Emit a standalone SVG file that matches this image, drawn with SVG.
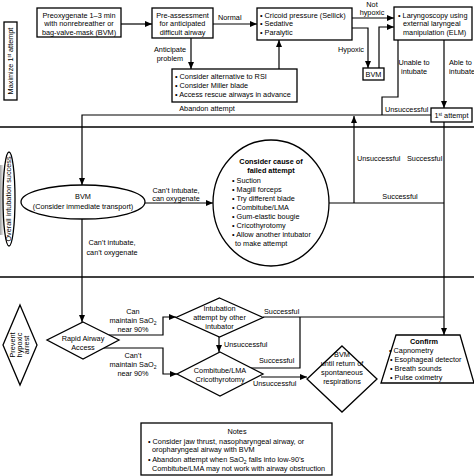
<svg xmlns="http://www.w3.org/2000/svg" width="474" height="476" viewBox="0 0 474 476">
<defs>
<style>
.b{fill:#fff;stroke:#000;stroke-width:1.3}
.l{fill:none;stroke:#000;stroke-width:1.2}
.s{fill:none;stroke:#000;stroke-width:1.5}
text{font-family:"Liberation Sans",Arial,sans-serif;font-size:7.3px;fill:#000}
.c{text-anchor:middle}
.e{text-anchor:end}
.bd{font-weight:bold}
</style>
<marker id="a" markerWidth="7" markerHeight="6" refX="7" refY="3" orient="auto" markerUnits="userSpaceOnUse">
<path d="M0,0 L7,3 L0,6 z" fill="#000"/>
</marker>
<linearGradient id="g" x1="0" y1="0" x2="1" y2="0">
<stop offset="0" stop-color="#444"/>
<stop offset="1" stop-color="#fff"/>
</linearGradient>
</defs>
<rect width="474" height="476" fill="#fff"/>

<g id="separators">
<line class="s" x1="0" y1="127" x2="474" y2="127"/>
<line class="s" x1="0" y1="277" x2="474" y2="277"/>
</g>

<g id="lane1">
<rect class="b" x="4" y="22" width="13" height="78"/>
<text class="c" transform="translate(10.5,61) rotate(-90)" y="2.5" font-size="7">Maximize 1<tspan dy="-2.5" font-size="4.5">st</tspan><tspan dy="2.5"> attempt</tspan></text>
</g>
<g id="lane2">
<rect x="0" y="165" width="4" height="70" fill="url(#g)" opacity="0.5"/>
<ellipse class="b" cx="9" cy="199" rx="6" ry="47"/>
<text class="c" transform="translate(9,199) rotate(-90)" y="2.2" font-size="5.9">Overall intubation success</text>
</g>
<g id="lane3">
<polygon class="b" points="20,305 37,345 20,385 3,345"/>
<g transform="translate(20,345) rotate(-90)">
<text class="c" y="-5" font-size="6">Prevent</text>
<text class="c" y="2" font-size="6">hypoxic</text>
<text class="c" y="9" font-size="6">arrest</text>
</g>
</g>

<g id="connectors">
<path class="l" d="M121,24 H152" marker-end="url(#a)"/>
<path class="l" d="M213,24 H257" marker-end="url(#a)"/>
<path class="l" d="M191,38 V69" marker-end="url(#a)"/>
<path class="l" d="M279,69 V40" marker-end="url(#a)"/>
<path class="l" d="M352,18 H394" marker-end="url(#a)"/>
<path class="l" d="M352,28 H368 V68" marker-end="url(#a)"/>
<path class="l" d="M379,68 V27 H394" marker-end="url(#a)"/>
<path class="l" d="M444,40 V108" marker-end="url(#a)"/>
<path class="l" d="M398,40 V97 H382 V115"/>
<path class="l" d="M431,115 H82 V185" marker-end="url(#a)"/>
<path class="l" d="M444,122 V335" marker-end="url(#a)"/>
<path class="l" d="M145,203 H213" marker-end="url(#a)"/>
<path class="l" d="M329,203 H444"/>
<path class="l" d="M354,203 V116" marker-end="url(#a)"/>
<path class="l" d="M82,219 V322" marker-end="url(#a)"/>
<path class="l" d="M109,335 H163 V317 H176" marker-end="url(#a)"/>
<path class="l" d="M103,348 H163 V374 H177" marker-end="url(#a)"/>
<path class="l" d="M219,337 V352" marker-end="url(#a)"/>
<path class="l" d="M263,317 H444"/>
<path class="l" d="M251,368 H300 V317"/>
<path class="l" d="M261,377 H307" marker-end="url(#a)"/>
<text x="218" y="20">Normal</text>
<text class="c" x="170" y="52">Anticipate</text>
<text class="c" x="170" y="61">problem</text>
<text class="c" x="372" y="7">Not</text>
<text class="c" x="372" y="15">hypoxic</text>
<text class="e" x="364" y="52">Hypoxic</text>
<text class="c" x="414" y="65">Unable to</text>
<text class="c" x="414" y="74">intubate</text>
<text x="449" y="65">Able to</text>
<text x="449" y="74">intubate</text>
<text x="385" y="112">Unsuccessful</text>
<text class="c" x="207" y="111">Abandon attempt</text>
<text class="c" x="176" y="193">Can’t intubate,</text>
<text class="c" x="176" y="201">can oxygenate</text>
<text x="357" y="161">Unsuccessful</text>
<text x="407" y="161">Successful</text>
<text class="c" x="400" y="199">Successful</text>
<text class="c" x="112" y="245">Can’t intubate,</text>
<text class="c" x="112" y="255">can’t oxygenate</text>
<text class="c" x="133" y="314">Can</text>
<text class="c" x="133" y="323">maintain SaO<tspan dy="2" font-size="5">2</tspan></text>
<text class="c" x="133" y="332">near 90%</text>
<text class="c" x="133" y="358">Can’t</text>
<text class="c" x="133" y="367">maintain SaO<tspan dy="2" font-size="5">2</tspan></text>
<text class="c" x="133" y="376">near 90%</text>
<text x="224" y="347">Unsuccessful</text>
<text x="264" y="314">Successful</text>
<text x="259" y="363">Successful</text>
<text x="253" y="386">Unsuccessful</text>
</g>

<g id="preoxygenate">
<rect class="b" x="37" y="8" width="84" height="29"/>
<text class="c" x="79" y="17.5">Preoxygenate 1–3 min</text>
<text class="c" x="79" y="26">with nonrebreather or</text>
<text class="c" x="79" y="34.5">bag-valve-mask (BVM)</text>
</g>
<g id="preassessment">
<rect class="b" x="152" y="8" width="61" height="30"/>
<text class="c" x="182.5" y="17.5">Pre-assessment</text>
<text class="c" x="182.5" y="26">for anticipated</text>
<text class="c" x="182.5" y="34.5">difficult airway</text>
</g>
<g id="cricoid">
<rect class="b" x="257" y="8" width="95" height="32"/>
<text x="260" y="17.5">• Cricoid pressure (Sellick)</text>
<text x="260" y="26">• Sedative</text>
<text x="260" y="34.5">• Paralytic</text>
</g>
<g id="bvm-box">
<rect class="b" x="363" y="68" width="21" height="12"/>
<text class="c" x="373.5" y="77">BVM</text>
</g>
<g id="elm">
<rect class="b" x="394" y="7" width="78" height="33"/>
<text x="398" y="17.5">• Laryngoscopy using</text>
<text x="403" y="26">external laryngeal</text>
<text x="403" y="34.5">manipulation (ELM)</text>
</g>
<g id="alternatives">
<rect class="b" x="172" y="69" width="125" height="33"/>
<text x="175" y="78.5">• Consider alternative to RSI</text>
<text x="175" y="87.5">• Consider Miller blade</text>
<text x="175" y="96.5">• Access rescue airways in advance</text>
</g>
<g id="first-attempt">
<rect class="b" x="431" y="108" width="41" height="14"/>
<text class="c" x="451.5" y="118">1<tspan dy="-2.5" font-size="4.5">st</tspan><tspan dy="2.5"> attempt</tspan></text>
</g>
<g id="bvm-ellipse">
<ellipse class="b" cx="83" cy="202" rx="62" ry="17"/>
<text class="c" x="83" y="199">BVM</text>
<text class="c" x="83" y="209">(Consider immediate transport)</text>
</g>
<g id="consider-cause">
<ellipse class="b" cx="271" cy="203" rx="58" ry="63"/>
<text class="c bd" x="271" y="164">Consider cause of</text>
<text class="c bd" x="271" y="172.5">failed attempt</text>
<text x="232" y="183">• Suction</text>
<text x="232" y="192">• Magill forceps</text>
<text x="232" y="201">• Try different blade</text>
<text x="232" y="210">• Combitube/LMA</text>
<text x="232" y="219">• Gum-elastic bougie</text>
<text x="232" y="228">• Cricothyrotomy</text>
<text x="232" y="237">• Allow another intubator</text>
<text x="235" y="246">to make attempt</text>
</g>
<g id="rapid-airway">
<polygon class="b" points="83,322 119,340 83,359 47,340"/>
<text class="c" x="83" y="341">Rapid Airway</text>
<text class="c" x="83" y="350">Access</text>
</g>
<g id="intubation-other">
<polygon class="b" points="219.5,298 263,317.5 219.5,337 176,317.5"/>
<text class="c" x="219.5" y="311">Intubation</text>
<text class="c" x="219.5" y="320">attempt by other</text>
<text class="c" x="219.5" y="329">intubator</text>
</g>
<g id="combitube">
<polygon class="b" points="220,352 263,374 220,396 177,374"/>
<text class="c" x="220" y="373">Combitube/LMA</text>
<text class="c" x="220" y="382">Cricothyrotomy</text>
</g>
<g id="bvm-diamond">
<polygon class="b" points="342,346 377,379 342,412 307,379"/>
<text class="c" x="342" y="357">BVM</text>
<text class="c" x="342" y="366">until return of</text>
<text class="c" x="342" y="375">spontaneous</text>
<text class="c" x="342" y="384">respirations</text>
</g>
<g id="confirm">
<polygon class="b" points="396,335 460,335 474,383 381,383"/>
<text class="c bd" x="424" y="344">Confirm</text>
<text x="389" y="353">• Capnometry</text>
<text x="390" y="362">• Esophageal detector</text>
<text x="390" y="371">• Breath sounds</text>
<text x="390" y="380">• Pulse oximetry</text>
</g>
<g id="notes">
<rect class="b" x="141" y="423" width="191" height="52"/>
<text class="c" x="237" y="434">Notes</text>
<text x="148" y="443.5">• Consider jaw thrust, nasopharyngeal airway, or</text>
<text x="152" y="452">oropharyngeal airway with BVM</text>
<text x="148" y="462">• Abandon attempt when SaO<tspan dy="2" font-size="5">2</tspan><tspan dy="-2"> falls into low-90’s</tspan></text>
<text x="152" y="470.5">Combitube/LMA may not work with airway obstruction</text>
</g>
</svg>
